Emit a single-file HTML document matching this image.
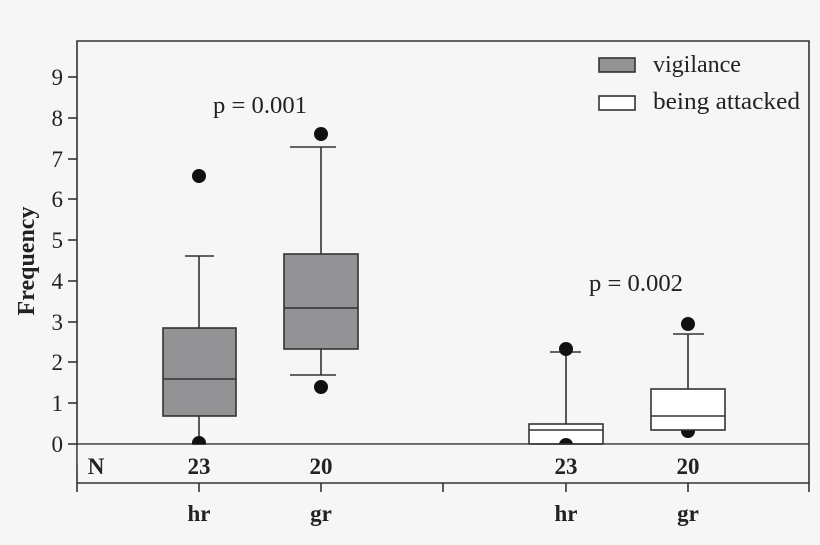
<!DOCTYPE html>
<html><head><style>html,body{margin:0;padding:0;background:#f6f6f6;overflow:hidden}</style></head><body>
<svg width="820" height="540" xmlns="http://www.w3.org/2000/svg" font-family="Liberation Serif, serif" fill="#222">
<rect width="820" height="540" fill="#f6f6f6"/>
<g stroke="#333" stroke-width="1.6" fill="none">
<polyline points="77,492 77,41 809,41 809,492"/>
<line x1="77" y1="444" x2="809" y2="444"/>
<line x1="77" y1="483" x2="809" y2="483"/>
<line x1="199" y1="483" x2="199" y2="492"/><line x1="321" y1="483" x2="321" y2="492"/>
<line x1="443" y1="483" x2="443" y2="492"/><line x1="566" y1="483" x2="566" y2="492"/>
<line x1="688" y1="483" x2="688" y2="492"/>
<line x1="68" y1="444" x2="77" y2="444"/><line x1="68" y1="403" x2="77" y2="403"/>
<line x1="68" y1="362" x2="77" y2="362"/><line x1="68" y1="322" x2="77" y2="322"/>
<line x1="68" y1="281" x2="77" y2="281"/><line x1="68" y1="240" x2="77" y2="240"/>
<line x1="68" y1="199" x2="77" y2="199"/><line x1="68" y1="159" x2="77" y2="159"/>
<line x1="68" y1="118" x2="77" y2="118"/><line x1="68" y1="77" x2="77" y2="77"/>
</g>
<g font-size="23" text-anchor="end">
<text x="63" y="452">0</text><text x="63" y="411">1</text><text x="63" y="370">2</text>
<text x="63" y="330">3</text><text x="63" y="289">4</text><text x="63" y="248">5</text>
<text x="63" y="207">6</text><text x="63" y="167">7</text><text x="63" y="126">8</text>
<text x="63" y="85">9</text></g>
<text transform="translate(34,261) rotate(-90)" font-size="24" font-weight="bold" text-anchor="middle">Frequency</text>
<g stroke="#333" stroke-width="1.6">
<line x1="199" y1="256" x2="199" y2="444"/><line x1="185" y1="256" x2="214" y2="256"/>
<rect x="163" y="328" width="73" height="88" fill="#939396"/><line x1="163" y1="379" x2="236" y2="379"/>
<line x1="321" y1="147" x2="321" y2="375"/><line x1="290" y1="147" x2="336" y2="147"/><line x1="290" y1="375" x2="336" y2="375"/>
<rect x="284" y="254" width="74" height="95" fill="#939396"/><line x1="284" y1="308" x2="358" y2="308"/>
<line x1="566" y1="352" x2="566" y2="444"/><line x1="550" y1="352" x2="581" y2="352"/>
<rect x="529" y="424" width="74" height="20" fill="#fff"/><line x1="529" y1="430" x2="603" y2="430"/>
<line x1="688" y1="334" x2="688" y2="389"/><line x1="673" y1="334" x2="704" y2="334"/>
</g>
<g fill="#111">
<circle cx="199" cy="176" r="7"/><circle cx="199" cy="443" r="7"/>
<circle cx="321" cy="134" r="7"/><circle cx="321" cy="387" r="7"/>
<circle cx="566" cy="349" r="7"/><circle cx="566" cy="445" r="7"/>
<circle cx="688" cy="324" r="7"/><circle cx="688" cy="431" r="7"/>
</g>
<rect x="77.8" y="444.8" width="730" height="20" fill="#f6f6f6"/>
<rect x="651" y="389" width="74" height="41" fill="#fff" stroke="#333" stroke-width="1.6"/>
<line x1="651" y1="416" x2="725" y2="416" stroke="#333" stroke-width="1.6"/>
<line x1="529" y1="444" x2="603" y2="444" stroke="#333" stroke-width="1.6"/>
<g stroke="#333" stroke-width="1.6"><rect x="599" y="58" width="36" height="14" fill="#939396"/><rect x="599" y="96" width="36" height="14" fill="#fff"/></g>
<g font-size="24"><text x="653" y="72">vigilance</text><text x="653" y="109" textLength="147" lengthAdjust="spacingAndGlyphs">being attacked</text>
<text x="213" y="113" textLength="94" lengthAdjust="spacingAndGlyphs">p = 0.001</text><text x="589" y="291" textLength="94" lengthAdjust="spacingAndGlyphs">p = 0.002</text></g>
<g font-size="23" font-weight="bold" text-anchor="middle">
<text x="96" y="474">N</text><text x="199" y="474">23</text><text x="321" y="474">20</text>
<text x="566" y="474">23</text><text x="688" y="474">20</text>
<text x="199" y="521">hr</text><text x="321" y="521">gr</text><text x="566" y="521">hr</text><text x="688" y="521">gr</text></g>
</svg>
</body></html>
